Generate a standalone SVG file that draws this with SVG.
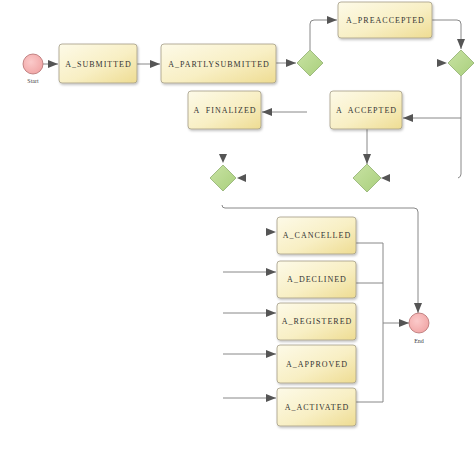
<svg xmlns="http://www.w3.org/2000/svg" width="474" height="452" viewBox="0 0 474 452">
<defs>
<linearGradient id="boxg" x1="0" y1="0" x2="1" y2="1">
<stop offset="0" stop-color="#fdfae8"/>
<stop offset="0.55" stop-color="#f8efc4"/>
<stop offset="1" stop-color="#eedc92"/>
</linearGradient>
<linearGradient id="dg" x1="0" y1="0" x2="1" y2="1">
<stop offset="0" stop-color="#c9e3a4"/>
<stop offset="1" stop-color="#a9cf7c"/>
</linearGradient>
<radialGradient id="cg" cx="0.4" cy="0.4" r="0.7">
<stop offset="0" stop-color="#fbcaca"/>
<stop offset="1" stop-color="#f0a3a3"/>
</radialGradient>
<filter id="sh" x="-10%" y="-10%" width="125%" height="130%">
<feDropShadow dx="1" dy="1.5" stdDeviation="1" flood-color="#000" flood-opacity="0.25"/>
</filter>
<marker id="ah" viewBox="0 0 10 8" refX="10" refY="4" markerWidth="10" markerHeight="8" markerUnits="userSpaceOnUse" orient="auto">
<path d="M0,0 L10,4 L0,8 Z" fill="#555"/>
</marker>
</defs>
<style>
.box{fill:url(#boxg);stroke:#a39d86;stroke-width:0.8;filter:url(#sh)}
.lbl{font-family:"Liberation Serif",serif;font-size:8px;fill:#333;text-anchor:middle;letter-spacing:1px}
.sm{font-family:"Liberation Serif",serif;font-size:6px;fill:#444;text-anchor:middle}
.dia{fill:url(#dg);stroke:#8fae6e;stroke-width:0.8}
.ev{fill:url(#cg);stroke:#b56e6e;stroke-width:0.8}
.c{fill:none;stroke:#888;stroke-width:1}
.ca{fill:none;stroke:#888;stroke-width:1;marker-end:url(#ah)}
.tip{fill:#555}
</style>
<rect width="474" height="452" fill="#fff"/>

<g id="connectors">
<path class="ca" d="M43,64 L58,64"/>
<path class="ca" d="M137,64 L160,64"/>
<path class="ca" d="M276,63 L296,63"/>
<path class="ca" d="M310,50 L310,24 Q310,20 314,20 L337,20"/>
<path class="ca" d="M432,20 L457,20 Q461,20 461,24 L461,49"/>
<path class="tip" d="M437,59 L447,63 L437,67 Z"/>
<path class="c" d="M461,76 L461,174 Q461,177 458,178"/>
<path class="ca" d="M461,118 L403,118"/>
<path class="ca" d="M307,112 L262,112"/>
<path class="ca" d="M367,129 L367,164"/>
<path class="tip" d="M390,174 L381,178 L390,182 Z"/>
<path class="tip" d="M219,154 L223,163 L227,154 Z"/>
<path class="tip" d="M246,174 L237,178 L246,182 Z"/>
<path class="ca" d="M222,205 Q222,208 225,208 L414,208 Q418,208 418,212 L418,313"/>
<path class="tip" d="M266,228 L276,232 L266,236 Z"/>
<path class="ca" d="M223,272 L276,272"/>
<path class="ca" d="M223,313 L276,313"/>
<path class="ca" d="M223,354 L276,354"/>
<path class="ca" d="M223,398 L276,398"/>
<path class="c" d="M356,243 L383,243 L383,402 L356,402"/>
<path class="c" d="M356,283 L383,283"/>
<path class="ca" d="M383,323 L409,323"/>
</g>

<g id="start">
<circle class="ev" cx="33" cy="64" r="10"/>
<text class="sm" x="33" y="83">Start</text>
</g>
<g id="a_submitted">
<rect class="box" x="59" y="44" width="78" height="39" rx="3"/>
<text class="lbl" x="98.5" y="66.5">A_SUBMITTED</text>
</g>
<g id="a_partlysubmitted">
<rect class="box" x="161" y="44" width="115" height="39" rx="3"/>
<text class="lbl" x="219" y="66.5">A_PARTLYSUBMITTED</text>
</g>
<g id="gw1">
<path class="dia" d="M310,50 L323,63 L310,76 L297,63 Z"/>
</g>
<g id="a_preaccepted">
<rect class="box" x="338" y="2" width="94" height="36" rx="3"/>
<text class="lbl" x="385.5" y="22.5">A_PREACCEPTED</text>
</g>
<g id="gw2">
<path class="dia" d="M461,50 L474,63 L461,76 L448,63 Z"/>
</g>
<g id="a_finalized">
<rect class="box" x="188" y="91" width="73" height="38" rx="3"/>
<text class="lbl" x="225" y="113" word-spacing="3">A FINALIZED</text>
</g>
<g id="a_accepted">
<rect class="box" x="330" y="91" width="72" height="38" rx="3"/>
<text class="lbl" x="366.5" y="113" word-spacing="3">A ACCEPTED</text>
</g>
<g id="gw3">
<path class="dia" d="M223,165 L236,178 L223,191 L210,178 Z"/>
</g>
<g id="gw4">
<path class="dia" d="M367,164 L381,178 L367,192 L353,178 Z"/>
</g>
<g id="a_cancelled">
<rect class="box" x="277" y="217" width="79" height="37" rx="3"/>
<text class="lbl" x="317" y="238">A_CANCELLED</text>
</g>
<g id="a_declined">
<rect class="box" x="277" y="261" width="79" height="37" rx="3"/>
<text class="lbl" x="317" y="282">A_DECLINED</text>
</g>
<g id="a_registered">
<rect class="box" x="277" y="303" width="79" height="37" rx="3"/>
<text class="lbl" x="317" y="324">A_REGISTERED</text>
</g>
<g id="a_approved">
<rect class="box" x="277" y="345" width="79" height="38" rx="3"/>
<text class="lbl" x="317" y="366.5">A_APPROVED</text>
</g>
<g id="a_activated">
<rect class="box" x="277" y="388" width="79" height="38" rx="3"/>
<text class="lbl" x="317" y="409.5">A_ACTIVATED</text>
</g>
<g id="end">
<circle class="ev" cx="419" cy="323" r="10"/>
<text class="sm" x="419" y="343">End</text>
</g>
</svg>
